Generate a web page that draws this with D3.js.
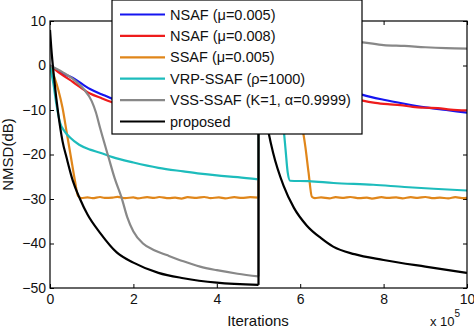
<!DOCTYPE html>
<html>
<head>
<meta charset="utf-8">
<script src="https://cdn.jsdelivr.net/npm/d3@7"></script>
<style>
  body { margin: 0; background: #fff; }
  svg { font-family: "Liberation Sans", Arial, sans-serif; }
</style>
</head>
<body>
<div id="chart"></div>
<script>
// series names shown in the legend
const seriesNames = ["NSAF (\u03bc=0.005)", "NSAF (\u03bc=0.008)", "SSAF (\u03bc=0.005)",
  "VRP-SSAF (\u03c1=1000)", "VSS-SSAF (K=1, \u03b1=0.9999)", "proposed"];

const xTicks = [0, 2, 4, 6, 8, 10];
const yTicks = [-50, -40, -30, -20, -10, 0, 10];

// [iterations x1e5, NMSD dB] ; stage A before the change, stage B after it
const nsaf005A = [[0,0],[0.25,-1.5],[0.55,-2.8],[0.96,-5.3],[1.25,-6.5],[1.5,-7.5],[2,-9],[2.5,-10.2],[3,-11.2],[4,-12.5],[5,-13.3]];
const nsaf005B = [[5,6],[5.5,2.5],[6,-0.5],[6.5,-3],[7,-5],[7.5,-6.6],[8,-7.7],[8.5,-8.6],[9,-9.4],[9.5,-10],[10,-10.6]];
const nsaf008A = [[0,0],[0.25,-1.8],[0.55,-3.7],[0.96,-6.3],[1.25,-7.4],[1.5,-8.3],[2,-9.8],[3,-11.8],[4,-13],[5,-13.8]];
const nsaf008B = [[5,6],[5.5,1.5],[6,-2],[6.5,-4.5],[7,-6.5],[7.5,-7.9],[7.8,-8.4],[8.1,-8.7],[8.4,-8.9],[8.7,-9.3],[9,-9.5],[9.3,-9.6],[9.6,-9.9],[10,-10.1]];
const ssafA = [[0,0],[0.1,-2.5],[0.2,-5.5],[0.3,-9.5],[0.4,-15],[0.5,-20.5],[0.6,-26],[0.67,-29.3],[0.75,-29.8],
  [0.9,-29.65],[1.02,-29.8],[1.2,-29.55],[1.31,-29.75],[1.5,-29.7],[1.62,-29.5],[1.8,-29.8],[2.0,-29.65],[2.1,-29.85],
  [2.33,-29.6],[2.5,-29.75],[2.62,-29.55],[2.85,-29.8],[3.0,-29.7],[3.15,-29.9],[3.3,-29.6],[3.52,-29.75],[3.7,-29.55],
  [3.85,-29.8],[4.05,-29.65],[4.2,-29.85],[4.42,-29.6],[4.6,-29.75],[4.8,-29.6],[5,-29.7]];
const ssafB = [[5,2],[5.5,-4],[5.9,-10],[6.05,-14],[6.12,-18],[6.2,-24],[6.28,-29.5],[6.35,-29.8],
  [6.5,-29.65],[6.7,-29.85],[6.85,-29.6],[7.05,-29.75],[7.2,-29.55],[7.42,-29.8],[7.6,-29.7],[7.72,-29.9],[7.95,-29.6],
  [8.1,-29.75],[8.3,-29.65],[8.45,-29.85],[8.65,-29.6],[8.82,-29.75],[9.0,-29.55],[9.2,-29.8],[9.35,-29.7],[9.55,-29.85],
  [9.72,-29.6],[9.88,-29.8],[10,-29.75]];
const vrpA = [[0,0],[0.04,-2],[0.08,-4],[0.15,-8.5],[0.24,-12.8],[0.35,-14.8],[0.48,-16.2],[0.7,-17.8],[0.96,-18.9],[1.2,-19.6],
  [1.5,-20.6],[2,-21.8],[2.6,-23],[3.2,-23.8],[3.6,-24.3],[4,-24.7],[4.5,-25.1],[5,-25.6]];
const vrpB = [[5,2],[5.3,-4],[5.5,-9],[5.6,-14],[5.65,-19],[5.7,-24],[5.76,-25.9],[6.2,-26],[6.8,-26.4],[7.75,-26.8],[8.5,-27.3],[9.2,-27.7],[10,-28.1]];
const vssA = [[0,0],[0.3,-1.5],[0.55,-3],[0.8,-5.2],[1,-8],[1.1,-10.5],[1.2,-14],[1.4,-20.5],[1.55,-25.3],[1.72,-29.8],[1.85,-34],
  [2,-37.3],[2.23,-40],[2.5,-41.5],[2.8,-42.6],[3.2,-44],[3.6,-45.2],[4,-46],[4.5,-46.8],[5,-47.4]];
const vssB = [[5,6.6],[5.5,6.3],[6,6.1],[6.5,5.8],[7,5.5],[7.5,5.2],[8,4.6],[8.5,4.4],[9,4.1],[9.5,3.9],[10,3.8]];
const propA = [[0,8],[0.03,4],[0.1,-3],[0.2,-11],[0.3,-17],[0.4,-20.8],[0.55,-26],[0.72,-30],[0.9,-33.5],[1.2,-37.6],[1.6,-42],
  [2,-44.3],[2.6,-46.6],[3.2,-47.8],[4,-48.8],[5,-49.3]];
const propB = [[5,8],[5.05,-2],[5.12,-8.5],[5.24,-15],[5.35,-19.6],[5.6,-27],[5.85,-32],[6.16,-36],[6.5,-38.8],[6.79,-40.7],[7.3,-42.4],[8,-43.7],[9,-45.2],[10,-46.6]];

const stagesA = [nsaf005A, nsaf008A, ssafA, vrpA, vssA, propA];
const stagesB = [nsaf005B, nsaf008B, ssafB, vrpB, vssB, propB];
const colors = ["#1515f0", "#ee1c1c", "#e0861a", "#1dbcbc", "#888888", "#000000"];

var W = 474, H = 334;
var pLeft = 50, pRight = 467, pTop = 21, pBottom = 288;

var svg = d3.select("#chart").append("svg")
  .attr("width", W)
  .attr("height", H);

var x = d3.scaleLinear().domain([0, 10]).range([pLeft, pRight]);
var y = d3.scaleLinear().domain([-50, 10]).range([pBottom, pTop]);

// axes (ticks point inward like matlab)
svg.append("g")
  .attr("transform", "translate(0," + pBottom + ")")
  .call(d3.axisBottom(x).tickValues(xTicks).tickSizeInner(-4).tickSizeOuter(0).tickPadding(6));
svg.append("g")
  .attr("transform", "translate(0," + pTop + ")")
  .call(d3.axisTop(x).tickValues(xTicks).tickSizeInner(-4).tickSizeOuter(0).tickFormat(""));
svg.append("g")
  .attr("transform", "translate(" + pLeft + ",0)")
  .call(d3.axisLeft(y).tickValues(yTicks).tickSizeInner(-4).tickSizeOuter(0).tickPadding(4));
svg.append("g")
  .attr("transform", "translate(" + pRight + ",0)")
  .call(d3.axisRight(y).tickValues(yTicks).tickSizeInner(-4).tickSizeOuter(0).tickFormat(""));

svg.selectAll(".domain").remove();
svg.selectAll(".tick line").attr("stroke", "#000");
svg.selectAll(".tick text")
  .attr("fill", "#111")
  .style("font-family", "'Liberation Sans', Arial, sans-serif")
  .style("font-size", "14px");

// clip for curves
svg.append("clipPath").attr("id", "plotclip")
  .append("rect")
  .attr("x", pLeft).attr("y", pTop)
  .attr("width", pRight - pLeft).attr("height", pBottom - pTop);

var line = d3.line()
  .x(function (d) { return x(d[0]); })
  .y(function (d) { return y(d[1]); })
  .curve(d3.curveMonotoneX);
var straight = d3.line()
  .x(function (d) { return x(d[0]); })
  .y(function (d) { return y(d[1]); });

var plot = svg.append("g").attr("clip-path", "url(#plotclip)");

stagesA.forEach(function (a, i) {
  var b = stagesB[i];
  var g = plot.append("g")
    .attr("fill", "none")
    .attr("stroke", colors[i])
    .attr("stroke-width", 2.2)
    .attr("stroke-linejoin", "round");
  g.append("path").attr("d", line(a));
  // jump at the system change
  g.append("path").attr("d", straight([a[a.length - 1], b[0]]));
  g.append("path").attr("d", line(b));
});

// frame
svg.append("rect")
  .attr("x", pLeft).attr("y", pTop)
  .attr("width", pRight - pLeft).attr("height", pBottom - pTop)
  .attr("fill", "none")
  .attr("stroke", "#000")
  .attr("stroke-width", 1.2);

// legend
var legend = svg.append("g");
legend.append("rect")
  .attr("x", 112).attr("y", 0)
  .attr("width", 250).attr("height", 134)
  .attr("fill", "#fff")
  .attr("stroke", "#000")
  .attr("stroke-width", 1.2);

seriesNames.forEach(function (name, i) {
  var ly = 14.5 + i * 21.4;
  legend.append("line")
    .attr("x1", 120).attr("x2", 165)
    .attr("y1", ly).attr("y2", ly)
    .attr("stroke", colors[i])
    .attr("stroke-width", 2.2);
  legend.append("text")
    .attr("x", 170)
    .attr("y", ly + 5)
    .attr("fill", "#111")
    .style("font-size", "14.5px")
    .text(name);
});

// axis labels
svg.append("text")
  .attr("x", 258)
  .attr("y", 326)
  .attr("text-anchor", "middle")
  .attr("fill", "#111")
  .style("font-size", "15px")
  .text("Iterations");

svg.append("text")
  .attr("transform", "rotate(-90)")
  .attr("x", -(pTop + pBottom) / 2)
  .attr("y", 13)
  .attr("text-anchor", "middle")
  .attr("fill", "#111")
  .style("font-size", "15px")
  .text("NMSD(dB)");

var mult = svg.append("text")
  .attr("x", 430)
  .attr("y", 326)
  .attr("fill", "#111")
  .style("font-size", "13px");
mult.append("tspan").text("x 10");
mult.append("tspan").attr("dy", -9).style("font-size", "10px").text("5");
</script>
</body>
</html>
